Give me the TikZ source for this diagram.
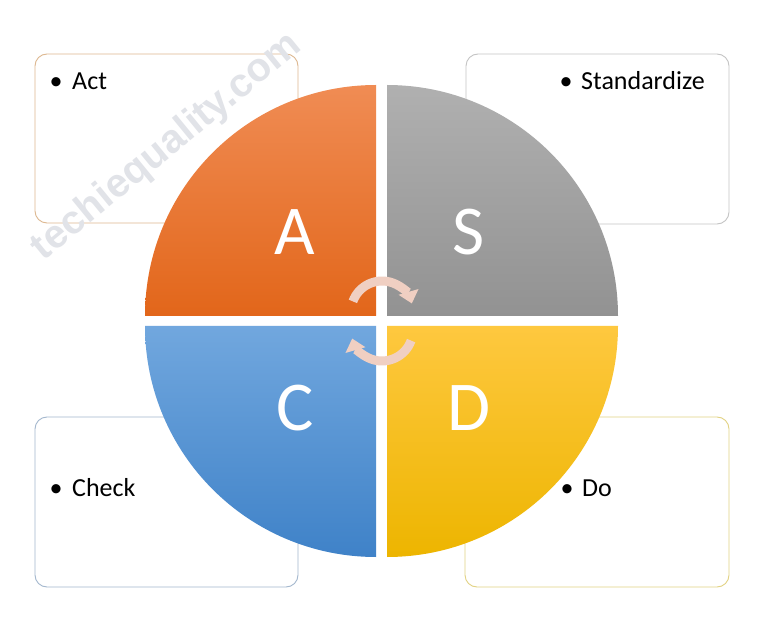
\documentclass[tikz,border=0pt]{standalone}
\usepackage{fontspec}
\setmainfont{Carlito}
\newfontfamily\wmfont{Liberation Sans}
\usetikzlibrary{arrows.meta}
\definecolor{orTop}{HTML}{F08C54}
\definecolor{orBot}{HTML}{E2661A}
\definecolor{grTop}{HTML}{B0B0B0}
\definecolor{grBot}{HTML}{929292}
\definecolor{blTop}{HTML}{71A7DE}
\definecolor{blBot}{HTML}{3F82C8}
\definecolor{ylTop}{HTML}{FEC83F}
\definecolor{ylBot}{HTML}{EDB500}
\definecolor{actLine}{HTML}{DDB890}
\definecolor{stdLine}{HTML}{C4C4C4}
\definecolor{chkLine}{HTML}{A4B8CE}
\definecolor{doLine}{HTML}{E2D283}
\definecolor{arrowCol}{HTML}{F0CFC2}
\definecolor{wmCol}{HTML}{E1E3E8}
\tikzset{
  infobox/.style={rounded corners=12pt, line width=0.9pt, fill=white},
  bigletter/.style={text=white, font=\fontsize{70}{72}\selectfont, inner sep=0pt},
  bulletlabel/.style={anchor=base west, inner sep=0pt, font=\fontsize{26}{28}\selectfont},
  bulletdot/.style={anchor=base, inner sep=0pt, font=\fontsize{26}{28}\selectfont},
  cyclearrow/.style={line width=9pt, draw=arrowCol, -{Triangle[width=20pt,length=12pt]}}
}
\begin{document}
\begin{tikzpicture}[x=1pt,y=1pt]
\fill[white] (0,0) rectangle (768,638);
\useasboundingbox (0,0) rectangle (768,638);

% info boxes
\draw[infobox, draw=actLine] (35,415) rectangle (298,584);
\draw[infobox, draw=stdLine] (466,414) rectangle (729,584);
\draw[infobox, draw=chkLine] (35,51) rectangle (298,221);
\draw[infobox, draw=doLine] (465,51) rectangle (729,221);

% watermark
\node[text=wmCol, rotate=39.3, font=\wmfont\bfseries\fontsize{40}{42}\selectfont] (wm) at (167,491) {techiequality.com};

% quadrants
\shade[top color=orTop, bottom color=orBot] (376,322) -- (145,322) arc[start angle=180,end angle=90,radius=231] -- cycle;
\shade[top color=grTop, bottom color=grBot] (387,322) -- (387,553) arc[start angle=90,end angle=0,radius=231] -- cycle;
\shade[top color=blTop, bottom color=blBot] (376,312) -- (145,312) arc[start angle=180,end angle=270,radius=231] -- cycle;
\shade[top color=ylTop, bottom color=ylBot] (387,312) -- (618,312) arc[start angle=0,end angle=-90,radius=231] -- cycle;

% letters
\node[bigletter] (A) at (295,406) {A};
\node[bigletter] (S) at (469,406) {S};
\node[bigletter] (C) at (295,230) {C};
\node[bigletter] (D) at (469,230) {D};

% cycle arrows (centres (382,326) and (382,308), radius 31)
\draw[cyclearrow] (352.9,336.6) arc[start angle=160,end angle=16,radius=31];
\draw[cyclearrow] (411.1,297.4) arc[start angle=-20,end angle=-164,radius=31];

% bullet texts
\node[bulletdot] (b1) at (56,548) {•};
\node[bulletlabel] (t1) at (72,548) {Act};
\node[bulletdot] (b2) at (566,548) {•};
\node[bulletlabel] (t2) at (581,548) {Standardize};
\node[bulletdot] (b3) at (56,142) {•};
\node[bulletlabel] (t3) at (72,142) {Check};
\node[bulletdot] (b4) at (567,142) {•};
\node[bulletlabel] (t4) at (582,142) {Do};
\end{tikzpicture}
\end{document}
